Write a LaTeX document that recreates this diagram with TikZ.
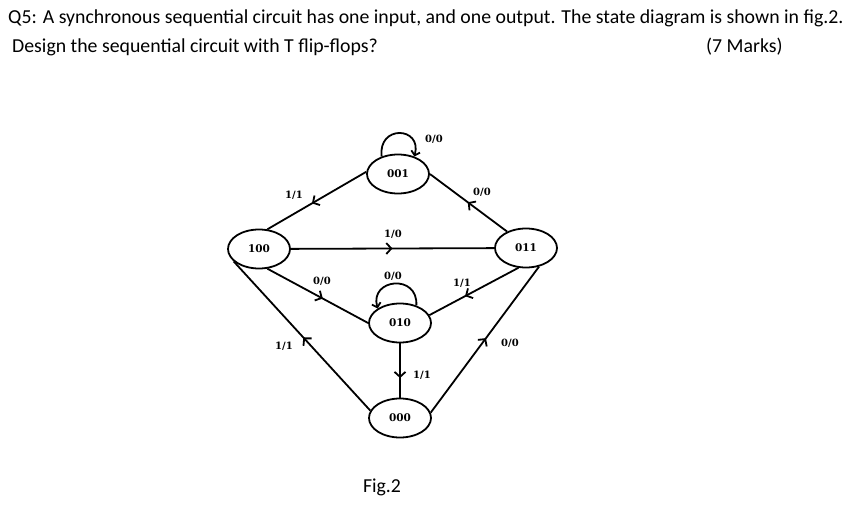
\documentclass[tikz,border=0pt]{standalone}
\usepackage{fontspec}
\setmainfont{Carlito}
\newfontfamily\statefont{DejaVu Serif}
\usetikzlibrary{shapes.geometric, arrows.meta, decorations.markings}

\tikzset{
    state/.style={draw, ellipse, line width=1.8pt, minimum width=62pt, minimum height=39pt, inner sep=0pt,
        font=\statefont\bfseries\fontsize{10.5}{12}\selectfont},
    lbl/.style={font=\statefont\bfseries\fontsize{10}{12}\selectfont, inner sep=0pt},
    trans/.style={line width=1.8pt},
    mid arrow/.style={postaction={decorate}, decoration={markings,
        mark=at position #1 with {\arrow{Straight Barb[length=5pt, width=11pt]}}}},
    qtext/.style={font=\fontsize{19.8}{23}\selectfont, inner sep=0pt, anchor=west},
}

\begin{document}
\begin{tikzpicture}[x=1pt, y=-1pt]
    \useasboundingbox (0,0) rectangle (848,505);

    \node[qtext] (q1)    at (8,18)   {Q5: A synchronous sequential circuit has one input, and one output. The state diagram is shown in fig.2.};
    \node[qtext] (q2)    at (12,47)  {Design the sequential circuit with T flip-flops?};
    \node[qtext] (marks) at (706,47) {(7 Marks)};

    \node[state] (s001) at (398,174) {001};
    \node[state] (s100) at (259,249) {100};
    \node[state] (s011) at (526,248) {011};
    \node[state] (s010) at (400,323) {010};
    \node[state] (s000) at (400,418) {000};

    \draw[trans, mid arrow=0.55] (s001.176) -- (s100.67);
    \draw[trans, mid arrow=0.51] (s011.139) -- (s001.0);
    \draw[trans, mid arrow=0.5]  (s100)     -- (s011);
    \draw[trans, mid arrow=0.55] (s100.293) -- (s010.180);
    \draw[trans, mid arrow=0.6]  (s011.249) -- (s010.15);
    \draw[trans, mid arrow=0.64] (s010)     -- (s000);
    \draw[trans, mid arrow=0.49] (s000.166) -- (s100.206);
    \draw[trans, mid arrow=0.51] (s000.10)  -- (s011.305);

    \draw[trans, -{Straight Barb[length=4pt, width=9pt]}] (s001.133) .. controls +(-4,-32) and +(8,-30) .. (s001.47);
    \draw[trans, -{Straight Barb[length=4pt, width=9pt]}] (s010.47) .. controls +(2,-32) and +(-8,-30) .. (s010.147);

    \node[lbl] (l001)  at (434,139) {0/0};
    \node[lbl] (l1)    at (294,195) {1/1};
    \node[lbl] (l2)    at (482,192) {0/0};
    \node[lbl] (l3)    at (393,234) {1/0};
    \node[lbl] (l4)    at (322,281) {0/0};
    \node[lbl] (l010)  at (393,276) {0/0};
    \node[lbl] (l5)    at (462,283) {1/1};
    \node[lbl] (l6)    at (284,346) {1/1};
    \node[lbl] (l7)    at (510,343) {0/0};
    \node[lbl] (l8)    at (422,375) {1/1};

    \node[font=\fontsize{19.8}{23}\selectfont, inner sep=0pt] (fig) at (382,487) {Fig.2};
\end{tikzpicture}
\end{document}
